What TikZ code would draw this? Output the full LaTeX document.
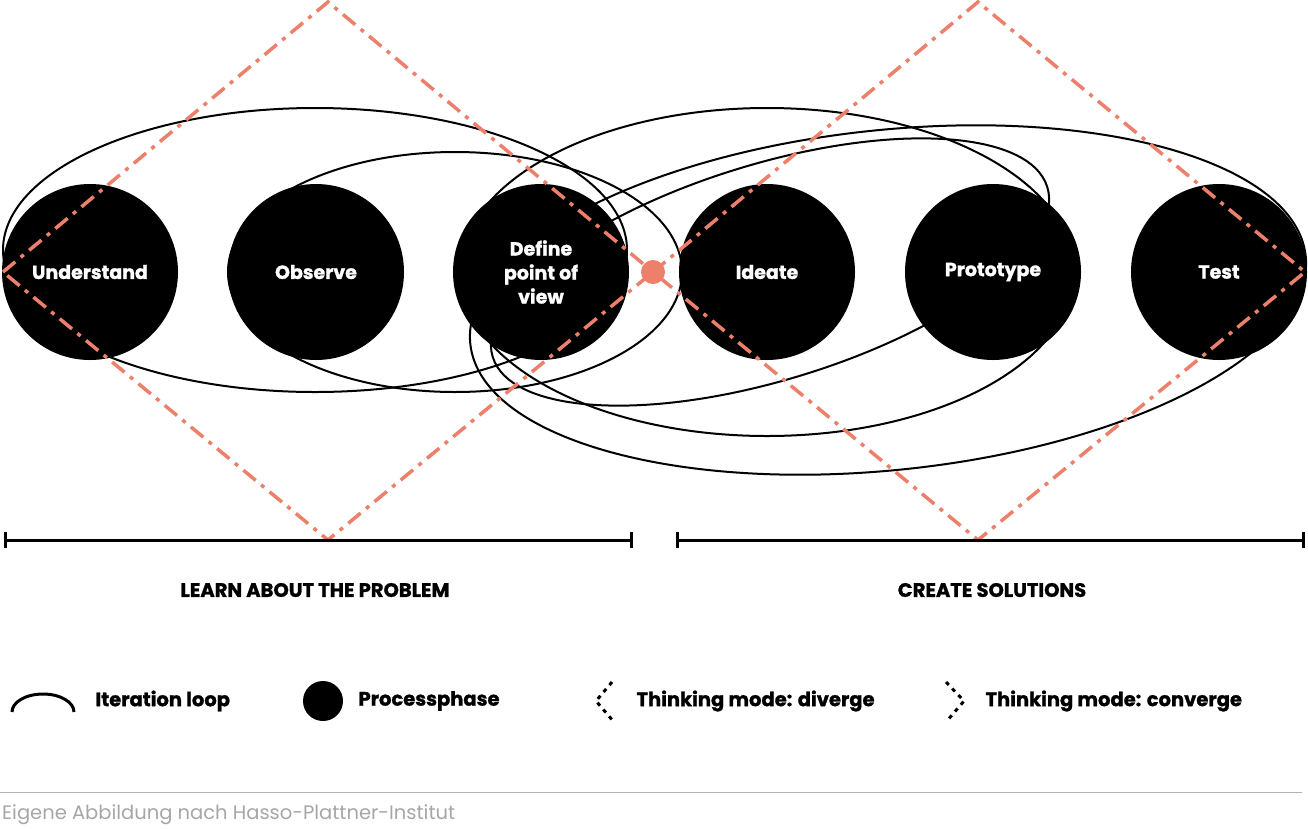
\documentclass[tikz,border=0pt]{standalone}
\usepackage{fontspec}
\setmainfont{Poppins}[FakeBold=1.2]
\newfontfamily\medfont{Poppins}[FakeBold=1.2]
\newfontfamily\lightfont{Poppins}
\begin{document}
\begin{tikzpicture}[x=1pt,y=-1pt,
  phase/.style={circle,fill=black,minimum size=176pt,inner sep=0pt,text=white,font=\medfont\bfseries\fontsize{19}{24}\selectfont,align=center},
  loop/.style={draw=black,line width=2pt},
  mode/.style={draw=salmon,line width=3.5pt,dash pattern=on 16pt off 7pt on 4pt off 7pt},
  bar/.style={draw=black,line width=3pt},
  lbl/.style={font=\medfont\bfseries\fontsize{19.5}{22}\selectfont,anchor=center},
  icon/.style={draw=black,line width=3pt,dash pattern=on 4pt off 5pt}]
\definecolor{salmon}{RGB}{236,128,107}
\useasboundingbox (0,0) rectangle (1308,828);
% iteration loops
\draw[loop] (315,250) ellipse [x radius=312,y radius=142];
\draw[loop] (455,272) ellipse [x radius=227,y radius=120];
\draw[loop] (767,272) ellipse [x radius=307,y radius=164];
\draw[loop,rotate around={17:(770,272)}] (770,272) ellipse [x radius=290,y radius=108];
\draw[loop,rotate around={6:(888,300)}] (888,300) ellipse [x radius=420,y radius=170];
% phases
\node[phase] (u) at (90,272) {Understand};
\node[phase] (o) at (316,272) {Observe};
\node[phase] (d) at (541,272) {Define\\point of\\view};
\node[phase] (i) at (767,272) {Ideate};
\node[phase] (p) at (993,272) {Prototype};
\node[phase] (t) at (1219,272) {Test};
% thinking modes
\coordinate (lt) at (328,2); \coordinate (lr) at (653,272);
\coordinate (lb) at (328,540); \coordinate (ll) at (3,272);
\coordinate (rt) at (978,2); \coordinate (rr) at (1305,272);
\coordinate (rb) at (978,540);
\draw[mode] (ll) -- (lt) -- (lr) -- (lb) -- cycle;
\draw[mode] (lr) -- (rt) -- (rr) -- (rb) -- cycle;
\fill[salmon] (lr) circle (12);
% bars
\coordinate (a1) at (5,540); \coordinate (a2) at (631,540);
\coordinate (b1) at (677,540); \coordinate (b2) at (1303,540);
\draw[bar] (a1) -- (a2); \draw[bar] ([yshift=-8]a1) -- ([yshift=8]a1); \draw[bar] ([yshift=-8]a2) -- ([yshift=8]a2);
\draw[bar] (b1) -- (b2); \draw[bar] ([yshift=-8]b1) -- ([yshift=8]b1); \draw[bar] ([yshift=-8]b2) -- ([yshift=8]b2);
\node[lbl] (learn) at (315,590) {LEARN ABOUT THE PROBLEM};
\node[lbl] (create) at (992,590) {CREATE SOLUTIONS};
% legend
\draw[line width=3pt] (12,712) arc[start angle=180,end angle=360,x radius=31,y radius=18];
\node[lbl,anchor=west] (l1) at (92,701) {Iteration loop};
\fill (323,701) circle (20);
\node[lbl,anchor=west] (l2) at (355,701) {Processphase};
\draw[icon] (612,682) -- (596,701) -- (614,722);
\node[lbl,anchor=west] (l3) at (633,701) {Thinking mode: diverge};
\draw[icon] (946,682) -- (964,701) -- (946,722);
\node[lbl,anchor=west] (l4) at (982,701) {Thinking mode: converge};
% footer
\draw[gray!60,line width=1pt] (0,792) -- (1302,792);
\node[anchor=west,text=gray!70,inner sep=0pt,font=\lightfont\fontsize{19.5}{22}\selectfont] (src) at (2,815) {Eigene Abbildung nach Hasso-Plattner-Institut};
\end{tikzpicture}
\end{document}
